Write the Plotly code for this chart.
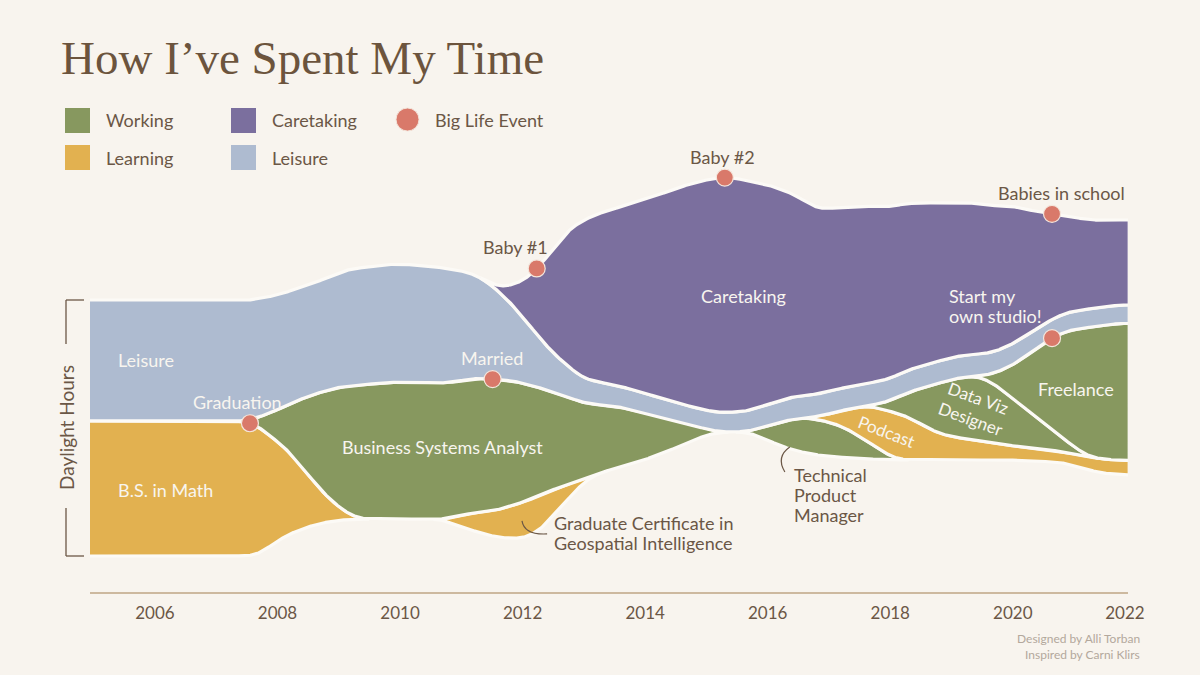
import numpy as np
import plotly.graph_objects as go

# ---------------- DATA: hours per day in each activity ----------------
# floor of the stack (hours sitting below the lowest visible band)
base_years = [2004.9, 2007.66, 2007.93, 2008.48, 2009.02, 2009.34, 2010.65, 2011.14, 2011.68,
              2011.96, 2012.23, 2012.49, 2012.77, 2013.10, 2013.59, 2014.13, 2014.68, 2015.05,
              2015.22, 2015.63, 2016.25, 2016.80, 2017.34, 2018.16, 2019.79, 2020.88, 2021.42, 2021.9]
base_hours = [0, 0, 0.81, 1.81, 2.25, 2.31, 2.31, 1.63, 1.13, 1.06, 1.44, 2.44, 3.69, 4.94, 5.56,
              6.19, 7.06, 7.63, 7.75, 7.75, 6.81, 6.31, 6.13, 6.0, 6.0, 5.81, 5.19, 5.06]

math_years = [2004.9, 2007.55, 2007.66, 2007.93, 2008.20, 2008.48, 2008.74, 2009.02, 2009.34]
math_hours = [8.44, 8.44, 8.19, 6.56, 5.13, 3.38, 1.88, 0.75, 0.0]

cert_years = [2010.70, 2011.14, 2011.68, 2011.96, 2012.23, 2012.49, 2012.77, 2013.10]
cert_hours = [0.0, 1.06, 1.81, 2.25, 2.25, 1.69, 0.88, 0.0]

tpm_years = [2015.63, 2016.08, 2016.64, 2017.06, 2017.45, 2017.78, 2018.16]
tpm_hours = [0.0, 1.13, 2.25, 2.13, 1.5, 0.75, 0.0]

podcast_years = [2016.64, 2017.18, 2017.71, 2018.16, 2018.43, 2018.81, 2019.35, 2019.90,
                 2020.44, 2020.98, 2021.42, 2021.9]
podcast_hours = [0.0, 0.9, 2.4, 2.9, 2.4, 1.63, 1.25, 0.94, 0.75, 0.7, 0.88, 0.9]

bsa_years = [2007.55, 2007.66, 2008.20, 2008.74, 2009.29, 2010.00, 2010.65, 2011.42, 2011.96,
             2012.49, 2013.05, 2013.59, 2014.13, 2014.68, 2015.05, 2015.19]
bsa_hours = [0.0, 0.44, 3.0, 6.31, 8.31, 8.56, 8.5, 8.31, 7.56, 6.13, 4.63, 3.75, 2.63, 1.19,
             0.25, 0.0]

dataviz_years = [2017.62, 2017.99, 2018.43, 2018.81, 2019.46, 2019.79, 2020.16, 2020.55,
                 2020.88, 2021.26]
dataviz_hours = [0.0, 0.63, 2.0, 3.19, 4.06, 3.5, 2.56, 1.5, 0.69, 0.0]

freelance_years = [2019.46, 2019.79, 2020.16, 2020.55, 2020.88, 2021.26, 2021.9]
freelance_hours = [0.0, 1.06, 2.94, 5.31, 6.88, 8.13, 8.6]

leisure_years = [2004.9, 2007.55, 2008.04, 2008.58, 2009.13, 2009.67, 2010.65, 2011.14, 2011.47,
                 2011.96, 2012.49, 2013.05, 2013.59, 2014.68, 2015.22, 2016.08, 2016.64, 2017.99,
                 2019.62, 2020.16, 2020.72, 2021.26, 2021.9]
leisure_hours = [7.56, 7.5, 7.13, 6.94, 7.25, 7.38, 7.25, 6.63, 5.94, 4.31, 2.44, 1.5, 1.3, 1.15,
                 1.2, 1.35, 1.4, 1.4, 1.35, 1.3, 1.15, 1.15, 1.15]

care_years = [2011.47, 2011.91, 2012.23, 2012.49, 2012.77, 2013.05, 2013.59, 2014.13, 2014.68,
              2015.32, 2015.76, 2016.31, 2016.85, 2017.71, 2018.81, 2019.90, 2020.27, 2020.64,
              2021.26, 2021.9]
care_hours = [0.0, 1.6, 4.06, 6.43, 8.74, 10.1, 11.2, 12.42, 13.79, 14.75, 14.23, 12.96, 11.56,
              11.0, 9.86, 8.86, 7.72, 6.55, 5.54, 5.29]

# life events: name, year, and the band whose upper edge the dot sits on
event_names = ["Graduation", "Married", "Baby #1", "Baby #2", "Babies in school",
               "Start my own studio!"]
event_years = [2007.55, 2011.51, 2012.23, 2015.30, 2020.64, 2020.64]
event_bands = ["B.S. in Math", "Business Systems Analyst", "Caretaking", "Caretaking",
               "Caretaking", "Freelance"]

category_names = ["Working", "Learning", "Caretaking", "Leisure"]
tick_years = [2006, 2008, 2010, 2012, 2014, 2016, 2018, 2020, 2022]
daylight_hours = 16

# ---------------- styles ----------------
BG = "#f8f4ee"
GAP = "#fcfaf6"
BROWN = "#6b5746"
TITLE_BROWN = "#6c543d"
LIGHT = "#f8f5ef"
DOT = "#d9796a"
COLORS = {"Working": "#87985f", "Learning": "#e2b150", "Caretaking": "#7b6f9e",
          "Leisure": "#aebbd0"}
FONT = "Lato, 'Open Sans', sans-serif"

# band stacking order (bottom -> top)
bands = [
    ("B.S. in Math", "Learning", math_years, math_hours),
    ("Graduate Certificate", "Learning", cert_years, cert_hours),
    ("Technical Product Manager", "Working", tpm_years, tpm_hours),
    ("Podcast", "Learning", podcast_years, podcast_hours),
    ("Business Systems Analyst", "Working", bsa_years, bsa_hours),
    ("Data Viz Designer", "Working", dataviz_years, dataviz_hours),
    ("Freelance", "Working", freelance_years, freelance_hours),
    ("Leisure", "Leisure", leisure_years, leisure_hours),
    ("Caretaking", "Caretaking", care_years, care_hours),
]


def pchip(xk, yk, x):
    """Monotone cubic curve through the key values (rendering only)."""
    xk = np.asarray(xk, float)
    yk = np.asarray(yk, float)
    h = np.diff(xk)
    d = np.diff(yk) / h
    n = len(xk)
    m = np.zeros(n)
    for k in range(1, n - 1):
        if d[k - 1] * d[k] > 0:
            w1 = 2 * h[k] + h[k - 1]
            w2 = h[k] + 2 * h[k - 1]
            m[k] = (w1 + w2) / (w1 / d[k - 1] + w2 / d[k])
    x = np.clip(x, xk[0], xk[-1])
    idx = np.clip(np.searchsorted(xk, x, side="right") - 1, 0, n - 2)
    hh = h[idx]
    s = (x - xk[idx]) / hh
    h00 = 2 * s**3 - 3 * s**2 + 1
    h10 = s**3 - 2 * s**2 + s
    h01 = -2 * s**3 + 3 * s**2
    h11 = s**3 - s**2
    return h00 * yk[idx] + h10 * hh * m[idx] + h01 * yk[idx + 1] + h11 * hh * m[idx + 1]


DT = 0.005
SIGMA = 0.15  # years; softens the stream edges
T0, T1 = base_years[0], base_years[-1]


def smooth(a, sigma=SIGMA):
    n = int(4 * sigma / DT)
    k = np.exp(-0.5 * (np.arange(-n, n + 1) * DT / sigma) ** 2)
    k /= k.sum()
    padded = np.concatenate([np.full(n, a[0]), a, np.full(n, a[-1])])
    return np.convolve(padded, k, mode="valid")


X_MIN, X_MAX = 2004.94, 2021.88
Y_MIN, Y_MAX = -2.25, 26.625

t = np.linspace(T0, T1, int(round((T1 - T0) / DT)) + 1)
EPS = 1e-6

# raw stacked boundaries
raw = [pchip(base_years, base_hours, t)]
ranges = []
for name, cat, yrs, hrs in bands:
    a = -np.inf if yrs[0] <= T0 + EPS else yrs[0]
    b = np.inf if yrs[-1] >= T1 - EPS else yrs[-1]
    thick = np.zeros_like(t)
    m = (t >= a - EPS) & (t <= b + EPS)
    thick[m] = np.maximum(pchip(yrs, hrs, t[m]), 0)
    raw.append(raw[-1] + thick)
    ranges.append((a, b))

sm = [smooth(bnd) for bnd in raw]

edges = {}
fig = go.Figure()
for i, (name, cat, yrs, hrs) in enumerate(bands):
    lower, upper = sm[i], sm[i + 1]
    edges[name] = (lower, upper)
    a, b = ranges[i]
    m = (t >= a - 2.5 * SIGMA) & (t <= b + 2.5 * SIGMA) & ((upper - lower) > 0.015)
    xs = np.concatenate([t[m], t[m][::-1]])
    ys = np.concatenate([upper[m], lower[m][::-1]])
    fig.add_trace(go.Scatter(x=xs, y=ys, mode="lines", fill="toself",
                             fillcolor=COLORS[cat], line=dict(color=GAP, width=3.2),
                             hoverinfo="skip", showlegend=False, name=name))


def top_of(band, year):
    return float(np.interp(year, t, edges[band][1]))


def mid_of(band, year):
    lo, up = edges[band]
    return float(np.interp(year, t, (lo + up) / 2))


# event dots
ev_y = [top_of(b, yr) for b, yr in zip(event_bands, event_years)]
fig.add_trace(go.Scatter(x=event_years, y=ev_y, mode="markers",
                         marker=dict(size=17, color=DOT, line=dict(color="#f4e6dc", width=1.2)),
                         hoverinfo="skip", showlegend=False, cliponaxis=False))

ann = []


def label(text, x, y, color="white", size=18, xanchor="center", yanchor="middle",
          angle=0, xshift=0, yshift=0, xref="x", yref="y", family=FONT, align="left"):
    ann.append(dict(text=text, x=x, y=y, xref=xref, yref=yref, showarrow=False,
                    xanchor=xanchor, yanchor=yanchor, textangle=angle, xshift=xshift,
                    yshift=yshift, align=align,
                    font=dict(family=family, size=size, color=color)))


# band labels
label("Leisure", 2005.36, mid_of("Leisure", 2005.36), LIGHT, xanchor="left")
label("B.S. in Math", 2005.36, mid_of("B.S. in Math", 2005.36), LIGHT, xanchor="left", yshift=-2)
label("Business Systems Analyst", 2010.70, mid_of("Business Systems Analyst", 2010.70), LIGHT,
      yshift=4)
label("Caretaking", 2015.61, mid_of("Caretaking", 2015.61), LIGHT)
label("Freelance", 2021.03, mid_of("Freelance", 2021.03), LIGHT)
label("Podcast", 2017.94, mid_of("Podcast", 2017.94), LIGHT, size=17, angle=21)
label("Data Viz<br>Designer", 2019.38, mid_of("Data Viz Designer", 2019.38), LIGHT, size=17,
      angle=20, align="center")

# event labels
ev_style = {"Graduation": (LIGHT, -12), "Married": (LIGHT, -1), "Baby #1": (BROWN, -21),
            "Baby #2": (BROWN, -2), "Babies in school": (BROWN, 9)}
for n_, x_, y_ in zip(event_names, event_years, ev_y):
    if n_ in ev_style:
        c, dx = ev_style[n_]
        label(n_, x_, y_, c, xshift=dx, yshift=21)


# multi-line callouts (20px line spacing)
def lines(text_lines, x, y_first, color):
    for i, s in enumerate(text_lines):
        label(s, x, y_first, color, xanchor="left", yshift=-20 * i)


lines(["Start my", "own studio!"], 2018.92, 16.25, LIGHT)
lines(["Technical", "Product", "Manager"], 2016.39, 5.06, BROWN)
lines(["Graduate Certificate in", "Geospatial Intelligence"], 2012.48, 2.06, BROWN)

shapes = []
# leader lines
shapes.append(dict(type="path", xref="x", yref="y",
                   path="M 2016.36,6.81 Q 2016.13,6.19 2016.28,5.25",
                   line=dict(color=BROWN, width=1.2)))
shapes.append(dict(type="path", xref="x", yref="y",
                   path="M 2011.99,2.2 Q 2012.03,1.3 2012.40,1.38",
                   line=dict(color=BROWN, width=1.2)))


# pixel -> paper helpers for layout decorations
def PX(px):
    return (px - 90) / 1038


def PY(py):
    return (592 - py) / 462


# Daylight hours bracket
for y0, y1 in [(daylight_hours, daylight_hours - 2.75), (0, 3.0)]:
    shapes.append(dict(type="line", xref="paper", yref="y", x0=PX(66), x1=PX(66), y0=y0, y1=y1,
                       line=dict(color=BROWN, width=1.3)))
    shapes.append(dict(type="line", xref="paper", yref="y", x0=PX(66), x1=PX(84), y0=y0, y1=y0,
                       line=dict(color=BROWN, width=1.3)))
label("Daylight Hours", PX(66), daylight_hours / 2, BROWN, size=19, angle=-90, xref="paper")

# title
label("How I\u2019ve Spent My Time", PX(59), PY(58), TITLE_BROWN, size=47, xanchor="left",
      xref="paper", yref="paper", family="'Liberation Serif', 'DejaVu Serif', serif")

# manual legend
legend_pos = {"Working": (65, 108), "Learning": (65, 145), "Caretaking": (231, 108),
              "Leisure": (231, 145)}
for cat in category_names:
    x0, y0 = legend_pos[cat]
    shapes.append(dict(type="rect", xref="paper", yref="paper", x0=PX(x0), x1=PX(x0 + 25),
                       y0=PY(y0), y1=PY(y0 + 25), fillcolor=COLORS[cat], line=dict(width=0)))
    label(cat, PX(x0 + 39), PY(y0 + 12.5), BROWN, xanchor="left", xref="paper", yref="paper")
shapes.append(dict(type="circle", xref="paper", yref="paper", x0=PX(396), x1=PX(419),
                   y0=PY(108), y1=PY(131), fillcolor=DOT, line=dict(color="#f4e6dc", width=1)))
label("Big Life Event", PX(433), PY(120), BROWN, xanchor="left", xref="paper", yref="paper")

# credits
label("Designed by Alli Torban", PX(1142), PY(638), "#b3a89c", size=12, xanchor="right",
      xref="paper", yref="paper")
label("Inspired by Carni Klirs", PX(1142), PY(654), "#b3a89c", size=12, xanchor="right",
      xref="paper", yref="paper")

tickvals = [min(y, X_MAX - 0.05) for y in tick_years]

fig.update_layout(
    width=1200, height=675,
    paper_bgcolor=BG, plot_bgcolor=BG,
    margin=dict(l=90, r=72, t=130, b=83),
    showlegend=False,
    annotations=ann,
    shapes=shapes,
    xaxis=dict(range=[X_MIN, X_MAX], showgrid=False, zeroline=False, showline=True,
               linecolor="#cdb99f", linewidth=2, tickvals=tickvals,
               ticktext=[str(y) for y in tick_years], ticks="outside", ticklen=5,
               tickcolor=BG, tickfont=dict(family=FONT, size=17, color=BROWN),
               fixedrange=True),
    yaxis=dict(range=[Y_MIN, Y_MAX], visible=False, fixedrange=True),
)

fig.write_html("out.html")
